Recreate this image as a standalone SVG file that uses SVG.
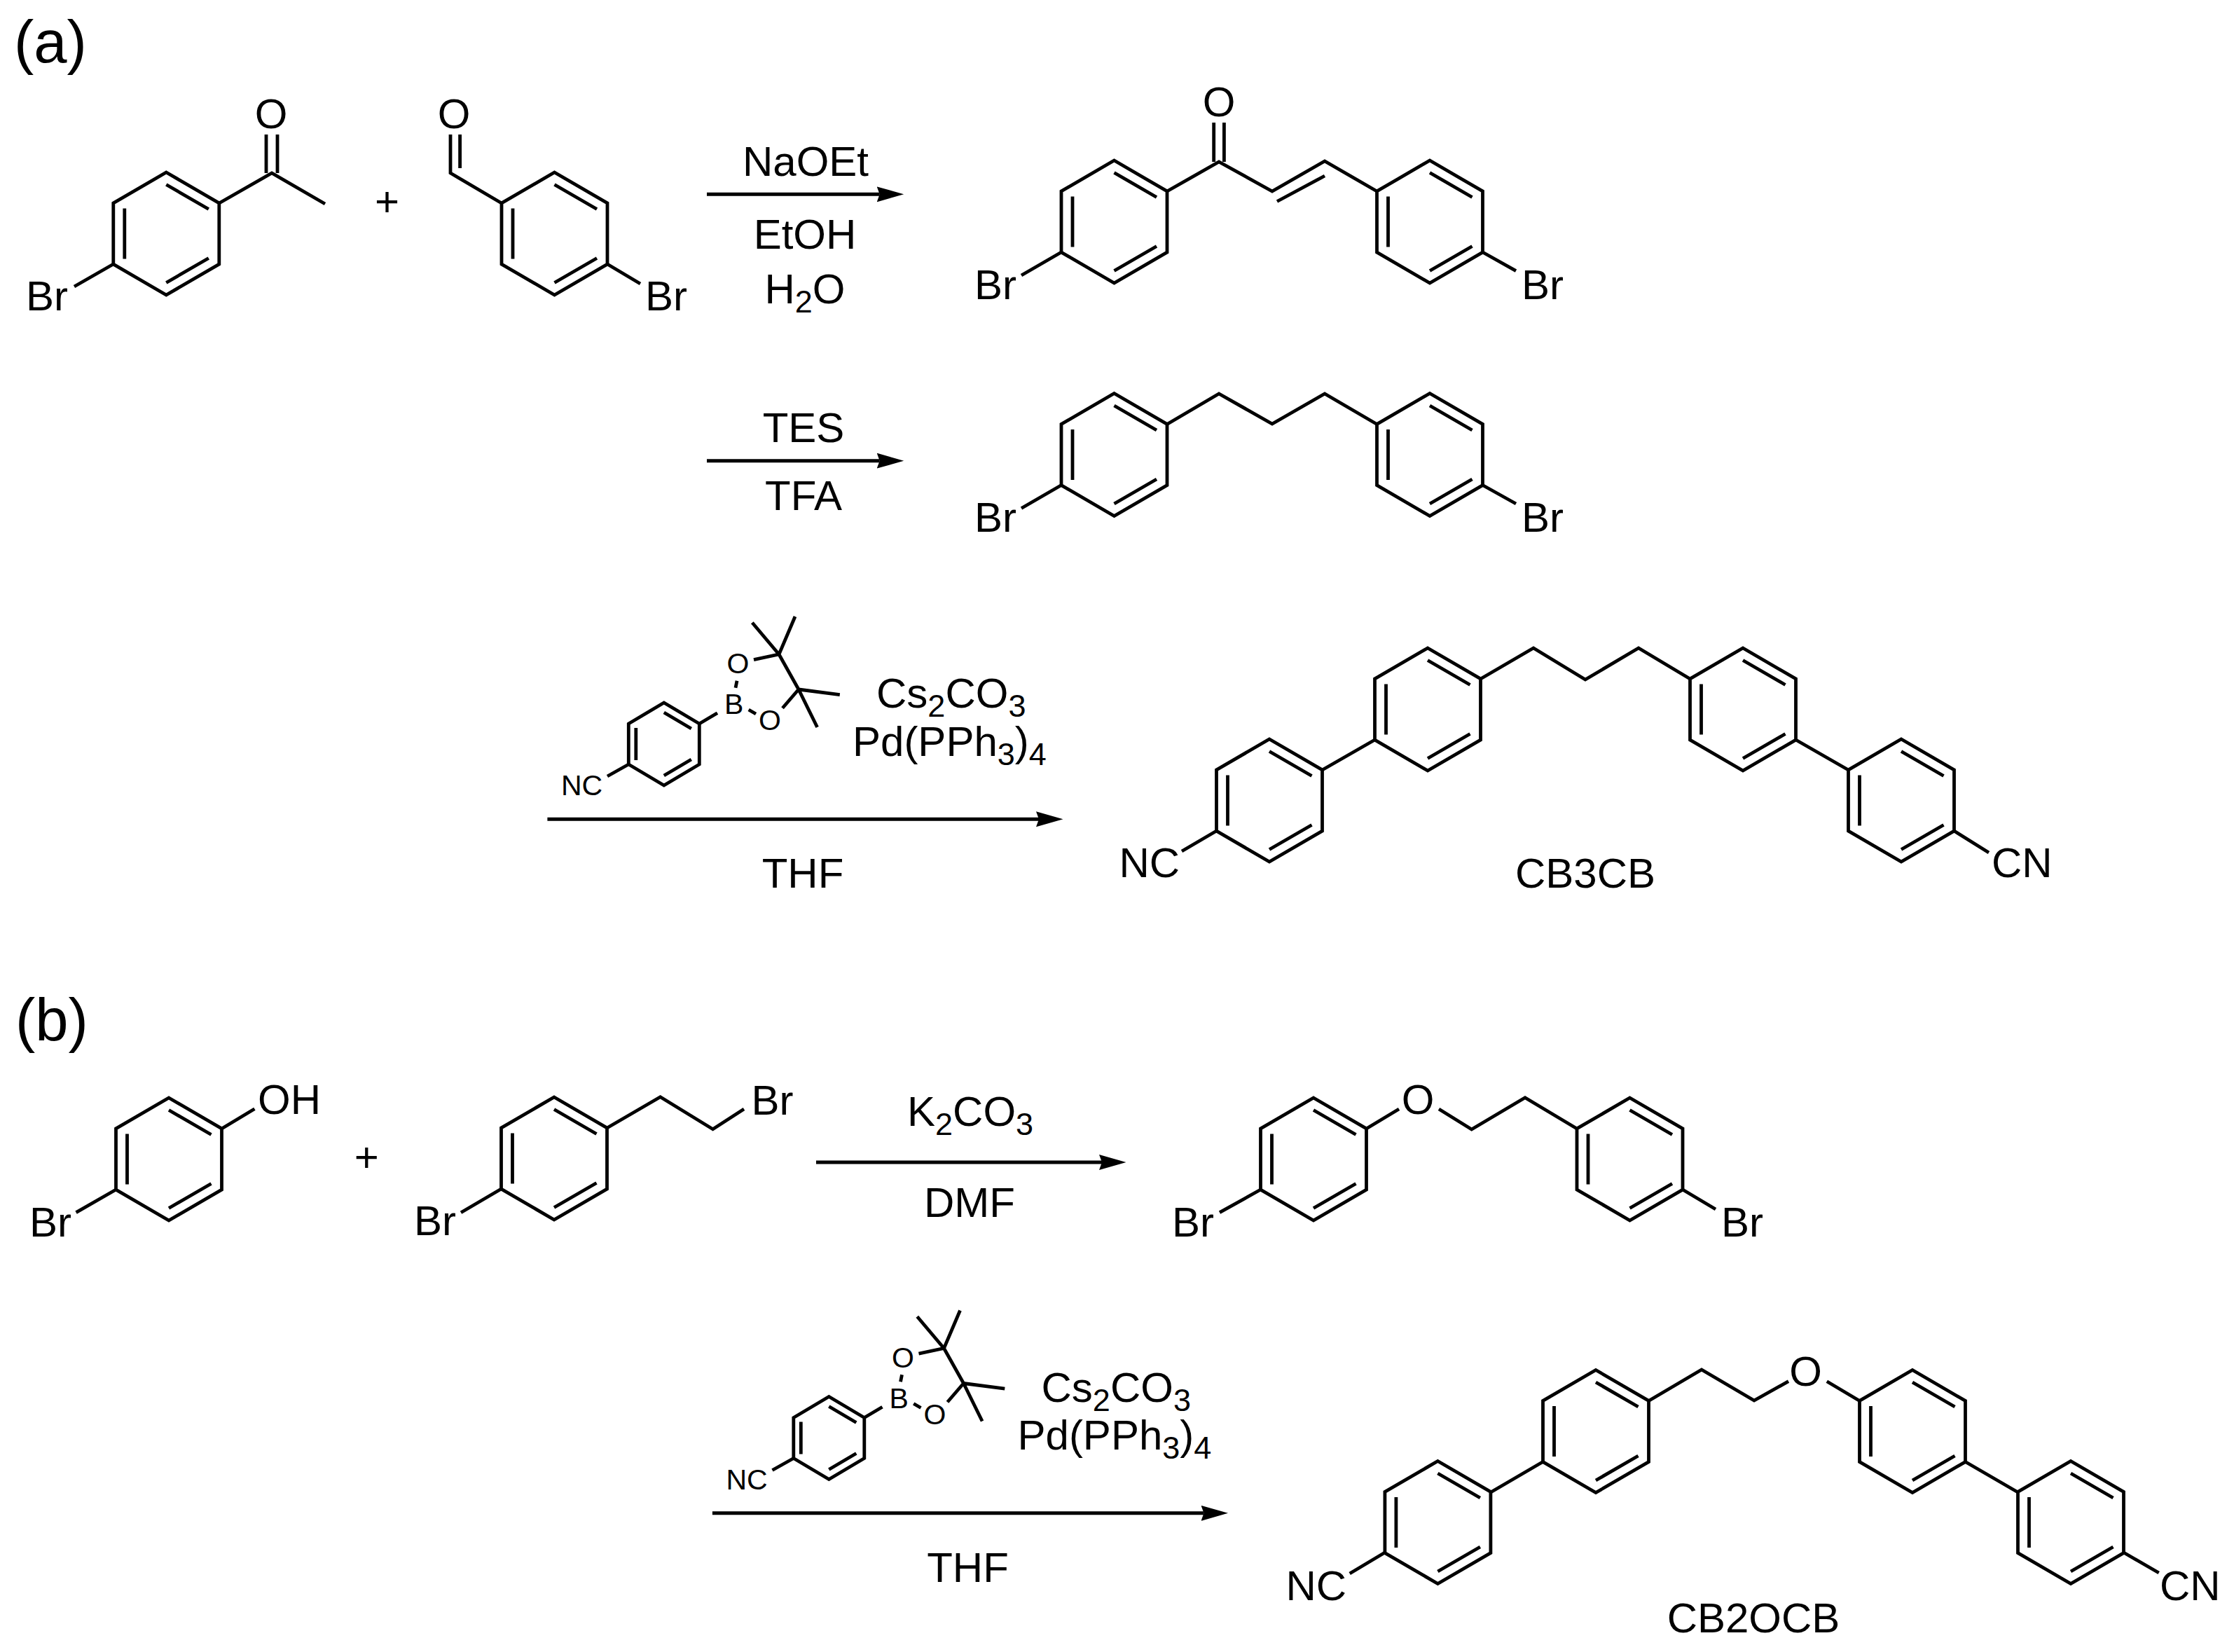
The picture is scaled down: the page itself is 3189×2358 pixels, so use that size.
<svg xmlns="http://www.w3.org/2000/svg" xmlns:xlink="http://www.w3.org/1999/xlink" width="3189" height="2358" viewBox="0 0 3189 2358">
<style>
text{font-family:"Liberation Sans",Arial,sans-serif;font-size:60px;fill:#000}
.m{text-anchor:middle}
.lab{font-size:85px}
.s{font-size:41px}
.sub{font-size:45px}
.b{fill:none;stroke:#000;stroke-width:4.8;stroke-linejoin:miter;stroke-linecap:butt}
.a{fill:none;stroke:#000;stroke-width:5;marker-end:url(#head)}
</style>
<defs>
<marker id="head" markerUnits="userSpaceOnUse" markerWidth="44" markerHeight="26" viewBox="0 -13 44 26" refX="4" refY="0" orient="auto"><path d="M0,-11L38.5,0L0,11L4,0z" fill="#000"/></marker>
<g id="ring" class="b"><path d="M0,-87.5L75.5,-43.5V43.5L0,87.5L-75.5,43.5V-43.5z"/><path d="M-59.5,-36V36M0,-70L60.5,-35M60.5,35L0,70"/></g>
<g id="small" class="b"><path d="M0,-59L50.5,-29V29L0,59L-50.5,29V-29z"/><path d="M-40,-23V23M0,-45L39,-22M39,22L0,45"/></g>
</defs>
<rect width="3189" height="2358" fill="#fff"/>
<g id="labels">
<text class="lab" x="20" y="89">(a)</text>
<text class="lab" x="22" y="1485">(b)</text>
</g>
<g id="connectors">
<path class="a" d="M1009,277.3H1255.7"/>
<path class="a" d="M1009,657.7H1255.7"/>
<path class="a" d="M781.4,1169.3H1483"/>
<path class="a" d="M1165,1659H1573"/>
<path class="a" d="M1016.9,2159.8H1718.5"/>
</g>
<g id="a-acetophenone">
<use href="#ring" x="237.3" y="333.5"/>
<path class="b" d="M312.8,290L388,247L464,291M380,192V247M396,192V247M161.8,377L106,409"/>
<text class="m" x="387" y="183">O</text>
<text x="37" y="443">Br</text>
</g>
<text id="a-plus" class="m" x="552.5" y="308">+</text>
<g id="a-benzaldehyde">
<use href="#ring" x="791.5" y="333.5"/>
<path class="b" d="M716,290L643,247V192M656.6,192V240M867,377L914,405"/>
<text class="m" x="648" y="183">O</text>
<text x="921" y="443">Br</text>
</g>
<g id="a-reagents1">
<text class="m" x="1150" y="250.7">NaOEt</text>
<text class="m" x="1149" y="354.7">EtOH</text>
<text class="m" x="1149" y="433">H<tspan class="sub" dy="13">2</tspan><tspan dy="-13">O</tspan></text>
</g>
<g id="a-chalcone">
<use href="#ring" x="1590.5" y="316.5"/>
<use href="#ring" x="2041" y="316.5"/>
<path class="b" d="M1666,273L1740,231L1816,273L1891,230L1965.5,273M1823,287.5L1891,251M1732.7,175V231M1747.4,175V231M1515,360L1458,393M2116.5,360L2164,386.6"/>
<text class="m" x="1740" y="166">O</text>
<text x="1391" y="427">Br</text>
<text x="2172" y="427">Br</text>
</g>
<g id="a-reagents2">
<text class="m" x="1147" y="630.7">TES</text>
<text class="m" x="1147" y="728">TFA</text>
</g>
<g id="a-propane">
<use href="#ring" x="1590.5" y="649"/>
<use href="#ring" x="2041" y="649"/>
<path class="b" d="M1666,605.5L1740,562L1816,605L1891,562L1965.5,605.5M1515,692.5L1458,725.5M2116.5,692.5L2164,719"/>
<text x="1391" y="759">Br</text>
<text x="2172" y="759">Br</text>
</g>
<g id="a-reagents3">
<use href="#small" x="947.8" y="1062"/>
<path class="b" d="M998.3,1033L1024,1017.7M1052,971.7L1050,981.7M1068.7,1013L1079,1019M1076,941.7L1112,934L1140,984L1117,1010.7M1073.8,888.7L1112,934L1135,880M1140,984L1198.8,991.7M1140,984L1166.6,1038M897.3,1091L867,1108"/>
<text class="s" x="801" y="1135">NC</text>
<text class="s m" x="1047.7" y="1019">B</text>
<text class="s m" x="1053.4" y="961">O</text>
<text class="s m" x="1099" y="1042">O</text>
<text x="1251" y="1010">Cs<tspan class="sub" dy="13">2</tspan><tspan dy="-13">CO</tspan><tspan class="sub" dy="13">3</tspan></text>
<text x="1217" y="1078.7">Pd(PPh<tspan class="sub" dy="13">3</tspan><tspan dy="-13">)</tspan><tspan class="sub" dy="13">4</tspan></text>
<text class="m" x="1146" y="1267">THF</text>
</g>
<g id="a-CB3CB">
<use href="#ring" x="1812" y="1142.5"/>
<use href="#ring" x="2038" y="1012.5"/>
<use href="#ring" x="2488" y="1012.5"/>
<use href="#ring" x="2714" y="1142.5"/>
<path class="b" d="M1962.5,1056L1887.5,1099M2563.5,1056L2638.5,1099M2113.5,969L2189,925L2263,970L2339,925L2412.5,969M1736.5,1186L1687,1215M2789.5,1186L2839,1217"/>
<text x="1597.5" y="1252">NC</text>
<text x="2843" y="1252">CN</text>
<text class="m" x="2263" y="1267">CB3CB</text>
</g>
<g id="b-bromophenol">
<use href="#ring" x="241" y="1654.5"/>
<path class="b" d="M316.5,1611L363.4,1582.7M165.5,1698L108.6,1730.7"/>
<text x="368" y="1590">OH</text>
<text x="42" y="1765">Br</text>
</g>
<text id="b-plus" class="m" x="523.3" y="1672">+</text>
<g id="b-bromoethyl">
<use href="#ring" x="791" y="1653.5"/>
<path class="b" d="M866.5,1610L942.6,1565.7L1017.6,1611.7L1062,1583M715.5,1697L658,1730.7"/>
<text x="1072.5" y="1590.7">Br</text>
<text x="591" y="1763">Br</text>
</g>
<g id="b-reagents1">
<text x="1295" y="1606.7">K<tspan class="sub" dy="13">2</tspan><tspan dy="-13">CO</tspan><tspan class="sub" dy="13">3</tspan></text>
<text class="m" x="1384" y="1737">DMF</text>
</g>
<g id="b-ether">
<use href="#ring" x="1875" y="1654.5"/>
<use href="#ring" x="2326.5" y="1654.5"/>
<path class="b" d="M1950.5,1611L1997,1583M2054,1583L2100.7,1612L2177,1566.7L2251,1611M1799.5,1698L1741,1730.7M2402,1698L2449,1726"/>
<text class="m" x="2024" y="1590">O</text>
<text x="1673" y="1765">Br</text>
<text x="2457" y="1765">Br</text>
</g>
<g id="b-reagents2" transform="translate(235.5,990.5)">
<use href="#small" x="947.8" y="1062"/>
<path class="b" d="M998.3,1033L1024,1017.7M1052,971.7L1050,981.7M1068.7,1013L1079,1019M1076,941.7L1112,934L1140,984L1117,1010.7M1073.8,888.7L1112,934L1135,880M1140,984L1198.8,991.7M1140,984L1166.6,1038M897.3,1091L867,1108"/>
<text class="s" x="801" y="1135">NC</text>
<text class="s m" x="1047.7" y="1019">B</text>
<text class="s m" x="1053.4" y="961">O</text>
<text class="s m" x="1099" y="1042">O</text>
<text x="1251" y="1010">Cs<tspan class="sub" dy="13">2</tspan><tspan dy="-13">CO</tspan><tspan class="sub" dy="13">3</tspan></text>
<text x="1217" y="1078.7">Pd(PPh<tspan class="sub" dy="13">3</tspan><tspan dy="-13">)</tspan><tspan class="sub" dy="13">4</tspan></text>
<text class="m" x="1146" y="1267">THF</text>
</g>
<g id="b-CB2OCB">
<use href="#ring" x="2052.4" y="2173"/>
<use href="#ring" x="2278" y="2043"/>
<use href="#ring" x="2730" y="2043"/>
<use href="#ring" x="2956" y="2173"/>
<path class="b" d="M2202.5,2086.5L2128,2130M2805.5,2086.5L2880.5,2130M2353.5,1999.5L2429,1955L2504,1999L2553,1971.7M2607.8,1971.7L2654.5,1999.5M1976.9,2216L1926.7,2246M3031.5,2216L3081.7,2245"/>
<text class="m" x="2577.7" y="1978">O</text>
<text x="1835.5" y="2284">NC</text>
<text x="3083" y="2284">CN</text>
<text class="m" x="2503" y="2330">CB2OCB</text>
</g>
</svg>
